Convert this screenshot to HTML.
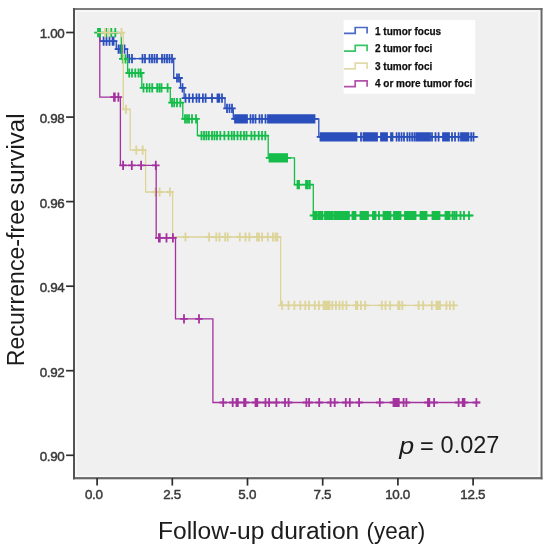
<!DOCTYPE html>
<html><head><meta charset="utf-8"><style>
html,body{margin:0;padding:0;background:#fff;width:550px;height:548px;overflow:hidden}
svg{display:block}
.tk{font-family:"Liberation Sans",Arial,sans-serif;font-size:13.4px;fill:#383838;stroke:#383838;stroke-width:0.45;letter-spacing:-0.3px}
.lg{font-family:"Liberation Sans",Arial,sans-serif;font-size:10px;font-weight:bold;fill:#111;stroke:#111;stroke-width:0.25}
.pv{font-family:"Liberation Sans",Arial,sans-serif;font-size:23.5px;fill:#1a1a1a}
.ax{font-family:"Liberation Sans",Arial,sans-serif;font-size:23.3px;fill:#1a1a1a}
</style></head><body>
<svg width="550" height="548" viewBox="0 0 550 548">
<defs><filter id="gb" filterUnits="userSpaceOnUse" x="0" y="0" width="550" height="548"><feGaussianBlur stdDeviation="0.4"/></filter></defs>
<g filter="url(#gb)">
<rect x="73" y="8" width="469.4" height="471.3" fill="#f0f0f0"/>
<rect x="76" y="11.2" width="463" height="465.1" fill="none" stroke="#f9f9f9" stroke-width="1.4"/>
<rect x="73" y="8" width="469.4" height="2" fill="#7c7c7c"/>
<rect x="73" y="477.1" width="469.4" height="2.2" fill="#686868"/>
<rect x="540.6" y="8" width="1.9" height="471.3" fill="#686868"/>
<rect x="73" y="8" width="2" height="471.3" fill="#525252"/>
<path d="M66.1 32.5H74" stroke="#2e2e2e" stroke-width="1.7"/>
<text x="64.5" y="38.4" text-anchor="end" class="tk">1.00</text>
<path d="M66.1 117.1H74" stroke="#2e2e2e" stroke-width="1.7"/>
<text x="64.5" y="123.0" text-anchor="end" class="tk">0.98</text>
<path d="M66.1 201.6H74" stroke="#2e2e2e" stroke-width="1.7"/>
<text x="64.5" y="207.5" text-anchor="end" class="tk">0.96</text>
<path d="M66.1 286.2H74" stroke="#2e2e2e" stroke-width="1.7"/>
<text x="64.5" y="292.1" text-anchor="end" class="tk">0.94</text>
<path d="M66.1 370.7H74" stroke="#2e2e2e" stroke-width="1.7"/>
<text x="64.5" y="376.6" text-anchor="end" class="tk">0.92</text>
<path d="M66.1 455.3H74" stroke="#2e2e2e" stroke-width="1.7"/>
<text x="64.5" y="461.2" text-anchor="end" class="tk">0.90</text>
<path d="M97.1 478V485.6" stroke="#2e2e2e" stroke-width="1.7"/>
<text x="93.8" y="498.7" text-anchor="middle" class="tk">0.0</text>
<path d="M172.3 478V485.6" stroke="#2e2e2e" stroke-width="1.7"/>
<text x="172.0" y="498.7" text-anchor="middle" class="tk">2.5</text>
<path d="M247.5 478V485.6" stroke="#2e2e2e" stroke-width="1.7"/>
<text x="247.2" y="498.7" text-anchor="middle" class="tk">5.0</text>
<path d="M322.7 478V485.6" stroke="#2e2e2e" stroke-width="1.7"/>
<text x="322.4" y="498.7" text-anchor="middle" class="tk">7.5</text>
<path d="M397.9 478V485.6" stroke="#2e2e2e" stroke-width="1.7"/>
<text x="397.6" y="498.7" text-anchor="middle" class="tk">10.0</text>
<path d="M473.1 478V485.6" stroke="#2e2e2e" stroke-width="1.7"/>
<text x="472.8" y="498.7" text-anchor="middle" class="tk">12.5</text>
<defs><filter id="bl" x="-5%" y="-5%" width="110%" height="110%"><feGaussianBlur stdDeviation="0.45"/></filter></defs>
<g filter="url(#bl)">
<path d="M97.0 32.6 H100.0 V41.2 H116.3 V49.2 H127.4 V58.7 H173.7 V78.0 H180.5 V87.8 H184.1 V98.2 H225.0 V108.4 H233.3 V118.9 H318.8 V136.9 H478.2" fill="none" stroke="#2c50bc" stroke-width="1.3"/><path d="M103.6 36.6v9.2M99.8 41.2h7.6M106.5 36.6v9.2M102.7 41.2h7.6M109.5 36.6v9.2M105.7 41.2h7.6M112.6 36.6v9.2M108.8 41.2h7.6M113.6 36.6v9.2M109.8 41.2h7.6M118.5 44.6v9.2M114.7 49.2h7.6M120.5 44.6v9.2M116.7 49.2h7.6M122.5 44.6v9.2M118.7 49.2h7.6M124.5 44.6v9.2M120.7 49.2h7.6M129.2 54.1v9.2M125.4 58.7h7.6M132.0 54.1v9.2M128.2 58.7h7.6M142.5 54.1v9.2M138.7 58.7h7.6M145.0 54.1v9.2M141.2 58.7h7.6M149.5 54.1v9.2M145.7 58.7h7.6M152.0 54.1v9.2M148.2 58.7h7.6M154.5 54.1v9.2M150.7 58.7h7.6M157.0 54.1v9.2M153.2 58.7h7.6M162.0 54.1v9.2M158.2 58.7h7.6M164.5 54.1v9.2M160.7 58.7h7.6M167.0 54.1v9.2M163.2 58.7h7.6M169.5 54.1v9.2M165.7 58.7h7.6M172.0 54.1v9.2M168.2 58.7h7.6M177.0 73.4v9.2M173.2 78.0h7.6M179.0 73.4v9.2M175.2 78.0h7.6M182.5 83.2v9.2M178.7 87.8h7.6M185.5 93.6v9.2M181.7 98.2h7.6M189.2 93.6v9.2M185.4 98.2h7.6M192.8 93.6v9.2M189.0 98.2h7.6M196.5 93.6v9.2M192.7 98.2h7.6M199.2 93.6v9.2M195.4 98.2h7.6M202.9 93.6v9.2M199.1 98.2h7.6M205.6 93.6v9.2M201.8 98.2h7.6M212.0 93.6v9.2M208.2 98.2h7.6M217.5 93.6v9.2M213.7 98.2h7.6M219.3 93.6v9.2M215.5 98.2h7.6M222.0 93.6v9.2M218.2 98.2h7.6M227.0 103.8v9.2M223.2 108.4h7.6M229.5 103.8v9.2M225.7 108.4h7.6M232.0 103.8v9.2M228.2 108.4h7.6M235.0 114.3v9.2M231.2 118.9h7.6M236.5 114.3v9.2M232.7 118.9h7.6M238.0 114.3v9.2M234.2 118.9h7.6M239.5 114.3v9.2M235.7 118.9h7.6M241.0 114.3v9.2M237.2 118.9h7.6M242.5 114.3v9.2M238.7 118.9h7.6M244.0 114.3v9.2M240.2 118.9h7.6M245.5 114.3v9.2M241.7 118.9h7.6M247.0 114.3v9.2M243.2 118.9h7.6M250.5 114.3v9.2M246.7 118.9h7.6M253.0 114.3v9.2M249.2 118.9h7.6M255.5 114.3v9.2M251.7 118.9h7.6M259.5 114.3v9.2M255.7 118.9h7.6M262.0 114.3v9.2M258.2 118.9h7.6M265.5 114.3v9.2M261.7 118.9h7.6M268.0 114.3v9.2M264.2 118.9h7.6M269.5 114.3v9.2M265.7 118.9h7.6M271.0 114.3v9.2M267.2 118.9h7.6M272.5 114.3v9.2M268.7 118.9h7.6M274.0 114.3v9.2M270.2 118.9h7.6M275.5 114.3v9.2M271.7 118.9h7.6M277.0 114.3v9.2M273.2 118.9h7.6M278.5 114.3v9.2M274.7 118.9h7.6M280.0 114.3v9.2M276.2 118.9h7.6M281.5 114.3v9.2M277.7 118.9h7.6M283.0 114.3v9.2M279.2 118.9h7.6M284.5 114.3v9.2M280.7 118.9h7.6M286.0 114.3v9.2M282.2 118.9h7.6M287.5 114.3v9.2M283.7 118.9h7.6M289.0 114.3v9.2M285.2 118.9h7.6M290.5 114.3v9.2M286.7 118.9h7.6M292.0 114.3v9.2M288.2 118.9h7.6M293.5 114.3v9.2M289.7 118.9h7.6M295.0 114.3v9.2M291.2 118.9h7.6M296.5 114.3v9.2M292.7 118.9h7.6M298.0 114.3v9.2M294.2 118.9h7.6M299.5 114.3v9.2M295.7 118.9h7.6M301.0 114.3v9.2M297.2 118.9h7.6M302.5 114.3v9.2M298.7 118.9h7.6M304.0 114.3v9.2M300.2 118.9h7.6M305.5 114.3v9.2M301.7 118.9h7.6M307.0 114.3v9.2M303.2 118.9h7.6M308.5 114.3v9.2M304.7 118.9h7.6M310.0 114.3v9.2M306.2 118.9h7.6M311.5 114.3v9.2M307.7 118.9h7.6M313.0 114.3v9.2M309.2 118.9h7.6M314.5 114.3v9.2M310.7 118.9h7.6M320.5 132.3v9.2M316.7 136.9h7.6M322.0 132.3v9.2M318.2 136.9h7.6M323.5 132.3v9.2M319.7 136.9h7.6M325.0 132.3v9.2M321.2 136.9h7.6M326.5 132.3v9.2M322.7 136.9h7.6M328.0 132.3v9.2M324.2 136.9h7.6M329.5 132.3v9.2M325.7 136.9h7.6M331.0 132.3v9.2M327.2 136.9h7.6M332.5 132.3v9.2M328.7 136.9h7.6M334.0 132.3v9.2M330.2 136.9h7.6M335.5 132.3v9.2M331.7 136.9h7.6M337.0 132.3v9.2M333.2 136.9h7.6M338.5 132.3v9.2M334.7 136.9h7.6M340.0 132.3v9.2M336.2 136.9h7.6M341.5 132.3v9.2M337.7 136.9h7.6M343.0 132.3v9.2M339.2 136.9h7.6M344.5 132.3v9.2M340.7 136.9h7.6M346.0 132.3v9.2M342.2 136.9h7.6M347.5 132.3v9.2M343.7 136.9h7.6M349.0 132.3v9.2M345.2 136.9h7.6M350.5 132.3v9.2M346.7 136.9h7.6M352.0 132.3v9.2M348.2 136.9h7.6M353.5 132.3v9.2M349.7 136.9h7.6M355.0 132.3v9.2M351.2 136.9h7.6M356.5 132.3v9.2M352.7 136.9h7.6M361.0 132.3v9.2M357.2 136.9h7.6M363.5 132.3v9.2M359.7 136.9h7.6M365.0 132.3v9.2M361.2 136.9h7.6M366.5 132.3v9.2M362.7 136.9h7.6M368.0 132.3v9.2M364.2 136.9h7.6M369.5 132.3v9.2M365.7 136.9h7.6M371.0 132.3v9.2M367.2 136.9h7.6M372.5 132.3v9.2M368.7 136.9h7.6M374.0 132.3v9.2M370.2 136.9h7.6M375.5 132.3v9.2M371.7 136.9h7.6M377.0 132.3v9.2M373.2 136.9h7.6M381.0 132.3v9.2M377.2 136.9h7.6M382.5 132.3v9.2M378.7 136.9h7.6M384.0 132.3v9.2M380.2 136.9h7.6M385.5 132.3v9.2M381.7 136.9h7.6M387.0 132.3v9.2M383.2 136.9h7.6M391.0 132.3v9.2M387.2 136.9h7.6M392.5 132.3v9.2M388.7 136.9h7.6M396.6 132.3v9.2M392.8 136.9h7.6M399.0 132.3v9.2M395.2 136.9h7.6M401.5 132.3v9.2M397.7 136.9h7.6M404.0 132.3v9.2M400.2 136.9h7.6M407.3 132.3v9.2M403.5 136.9h7.6M409.7 132.3v9.2M405.9 136.9h7.6M412.2 132.3v9.2M408.4 136.9h7.6M414.5 132.3v9.2M410.7 136.9h7.6M416.5 132.3v9.2M412.7 136.9h7.6M418.0 132.3v9.2M414.2 136.9h7.6M419.5 132.3v9.2M415.7 136.9h7.6M421.0 132.3v9.2M417.2 136.9h7.6M422.5 132.3v9.2M418.7 136.9h7.6M424.0 132.3v9.2M420.2 136.9h7.6M425.5 132.3v9.2M421.7 136.9h7.6M427.0 132.3v9.2M423.2 136.9h7.6M428.5 132.3v9.2M424.7 136.9h7.6M430.0 132.3v9.2M426.2 136.9h7.6M432.0 132.3v9.2M428.2 136.9h7.6M435.5 132.3v9.2M431.7 136.9h7.6M438.6 132.3v9.2M434.8 136.9h7.6M443.0 132.3v9.2M439.2 136.9h7.6M444.5 132.3v9.2M440.7 136.9h7.6M446.0 132.3v9.2M442.2 136.9h7.6M447.5 132.3v9.2M443.7 136.9h7.6M449.0 132.3v9.2M445.2 136.9h7.6M452.0 132.3v9.2M448.2 136.9h7.6M455.0 132.3v9.2M451.2 136.9h7.6M458.6 132.3v9.2M454.8 136.9h7.6M461.0 132.3v9.2M457.2 136.9h7.6M462.5 132.3v9.2M458.7 136.9h7.6M464.0 132.3v9.2M460.2 136.9h7.6M465.5 132.3v9.2M461.7 136.9h7.6M467.0 132.3v9.2M463.2 136.9h7.6M468.5 132.3v9.2M464.7 136.9h7.6M471.2 132.3v9.2M467.4 136.9h7.6M473.5 132.3v9.2M469.7 136.9h7.6" fill="none" stroke="#2c50bc" stroke-width="1.8"/>
<path d="M97.0 32.6 H121.3 V58.9 H127.6 V73.0 H141.8 V87.8 H170.3 V102.7 H182.8 V118.8 H197.4 V135.7 H268.2 V157.8 H294.5 V184.6 H313.3 V215.5 H473.6" fill="none" stroke="#14bc4a" stroke-width="1.3"/><path d="M98.0 28.0v9.2M94.2 32.6h7.6M99.0 28.0v9.2M95.2 32.6h7.6M100.0 28.0v9.2M96.2 32.6h7.6M106.2 28.0v9.2M102.4 32.6h7.6M111.3 28.0v9.2M107.5 32.6h7.6M115.3 28.0v9.2M111.5 32.6h7.6M122.8 54.3v9.2M119.0 58.9h7.6M125.5 54.3v9.2M121.7 58.9h7.6M129.2 68.4v9.2M125.4 73.0h7.6M132.0 68.4v9.2M128.2 73.0h7.6M135.3 68.4v9.2M131.5 73.0h7.6M138.5 68.4v9.2M134.7 73.0h7.6M140.7 68.4v9.2M136.9 73.0h7.6M143.5 83.2v9.2M139.7 87.8h7.6M146.8 83.2v9.2M143.0 87.8h7.6M149.5 83.2v9.2M145.7 87.8h7.6M152.2 83.2v9.2M148.4 87.8h7.6M157.2 83.2v9.2M153.4 87.8h7.6M159.4 83.2v9.2M155.6 87.8h7.6M161.5 83.2v9.2M157.7 87.8h7.6M167.6 83.2v9.2M163.8 87.8h7.6M172.0 98.1v9.2M168.2 102.7h7.6M174.2 98.1v9.2M170.4 102.7h7.6M177.0 98.1v9.2M173.2 102.7h7.6M180.3 98.1v9.2M176.5 102.7h7.6M185.0 114.2v9.2M181.2 118.8h7.6M187.0 114.2v9.2M183.2 118.8h7.6M189.0 114.2v9.2M185.2 118.8h7.6M192.0 114.2v9.2M188.2 118.8h7.6M196.0 114.2v9.2M192.2 118.8h7.6M201.5 131.1v9.2M197.7 135.7h7.6M204.0 131.1v9.2M200.2 135.7h7.6M206.4 131.1v9.2M202.6 135.7h7.6M208.8 131.1v9.2M205.0 135.7h7.6M212.0 131.1v9.2M208.2 135.7h7.6M214.5 131.1v9.2M210.7 135.7h7.6M217.0 131.1v9.2M213.2 135.7h7.6M220.3 131.1v9.2M216.5 135.7h7.6M224.4 131.1v9.2M220.6 135.7h7.6M228.5 131.1v9.2M224.7 135.7h7.6M231.7 131.1v9.2M227.9 135.7h7.6M234.2 131.1v9.2M230.4 135.7h7.6M237.5 131.1v9.2M233.7 135.7h7.6M240.7 131.1v9.2M236.9 135.7h7.6M244.0 131.1v9.2M240.2 135.7h7.6M246.5 131.1v9.2M242.7 135.7h7.6M251.4 131.1v9.2M247.6 135.7h7.6M254.6 131.1v9.2M250.8 135.7h7.6M258.7 131.1v9.2M254.9 135.7h7.6M262.0 131.1v9.2M258.2 135.7h7.6M265.3 131.1v9.2M261.5 135.7h7.6M269.5 153.2v9.2M265.7 157.8h7.6M271.1 153.2v9.2M267.3 157.8h7.6M272.7 153.2v9.2M268.9 157.8h7.6M274.3 153.2v9.2M270.5 157.8h7.6M275.9 153.2v9.2M272.1 157.8h7.6M277.5 153.2v9.2M273.7 157.8h7.6M279.1 153.2v9.2M275.3 157.8h7.6M280.7 153.2v9.2M276.9 157.8h7.6M282.3 153.2v9.2M278.5 157.8h7.6M283.9 153.2v9.2M280.1 157.8h7.6M285.5 153.2v9.2M281.7 157.8h7.6M287.1 153.2v9.2M283.3 157.8h7.6M297.5 180.0v9.2M293.7 184.6h7.6M299.0 180.0v9.2M295.2 184.6h7.6M306.0 180.0v9.2M302.2 184.6h7.6M307.8 180.0v9.2M304.0 184.6h7.6M309.8 180.0v9.2M306.0 184.6h7.6M313.5 210.9v9.2M309.7 215.5h7.6M315.0 210.9v9.2M311.2 215.5h7.6M316.5 210.9v9.2M312.7 215.5h7.6M318.5 210.9v9.2M314.7 215.5h7.6M319.8 210.9v9.2M316.0 215.5h7.6M321.2 210.9v9.2M317.4 215.5h7.6M322.5 210.9v9.2M318.7 215.5h7.6M325.0 210.9v9.2M321.2 215.5h7.6M326.5 210.9v9.2M322.7 215.5h7.6M328.0 210.9v9.2M324.2 215.5h7.6M329.5 210.9v9.2M325.7 215.5h7.6M331.0 210.9v9.2M327.2 215.5h7.6M332.5 210.9v9.2M328.7 215.5h7.6M334.5 210.9v9.2M330.7 215.5h7.6M335.7 210.9v9.2M331.9 215.5h7.6M336.9 210.9v9.2M333.1 215.5h7.6M338.1 210.9v9.2M334.3 215.5h7.6M339.3 210.9v9.2M335.5 215.5h7.6M340.5 210.9v9.2M336.7 215.5h7.6M341.7 210.9v9.2M337.9 215.5h7.6M342.9 210.9v9.2M339.1 215.5h7.6M344.1 210.9v9.2M340.3 215.5h7.6M345.3 210.9v9.2M341.5 215.5h7.6M346.5 210.9v9.2M342.7 215.5h7.6M347.7 210.9v9.2M343.9 215.5h7.6M348.9 210.9v9.2M345.1 215.5h7.6M352.5 210.9v9.2M348.7 215.5h7.6M354.0 210.9v9.2M350.2 215.5h7.6M355.5 210.9v9.2M351.7 215.5h7.6M360.5 210.9v9.2M356.7 215.5h7.6M362.0 210.9v9.2M358.2 215.5h7.6M363.5 210.9v9.2M359.7 215.5h7.6M365.0 210.9v9.2M361.2 215.5h7.6M366.5 210.9v9.2M362.7 215.5h7.6M368.0 210.9v9.2M364.2 215.5h7.6M373.0 210.9v9.2M369.2 215.5h7.6M374.2 210.9v9.2M370.4 215.5h7.6M375.5 210.9v9.2M371.7 215.5h7.6M379.0 210.9v9.2M375.2 215.5h7.6M383.5 210.9v9.2M379.7 215.5h7.6M384.9 210.9v9.2M381.1 215.5h7.6M386.3 210.9v9.2M382.5 215.5h7.6M387.7 210.9v9.2M383.9 215.5h7.6M389.1 210.9v9.2M385.3 215.5h7.6M390.5 210.9v9.2M386.7 215.5h7.6M394.0 210.9v9.2M390.2 215.5h7.6M395.3 210.9v9.2M391.5 215.5h7.6M396.6 210.9v9.2M392.8 215.5h7.6M397.9 210.9v9.2M394.1 215.5h7.6M399.2 210.9v9.2M395.4 215.5h7.6M400.5 210.9v9.2M396.7 215.5h7.6M405.0 210.9v9.2M401.2 215.5h7.6M406.5 210.9v9.2M402.7 215.5h7.6M408.0 210.9v9.2M404.2 215.5h7.6M409.5 210.9v9.2M405.7 215.5h7.6M411.0 210.9v9.2M407.2 215.5h7.6M412.5 210.9v9.2M408.7 215.5h7.6M414.0 210.9v9.2M410.2 215.5h7.6M415.5 210.9v9.2M411.7 215.5h7.6M420.5 210.9v9.2M416.7 215.5h7.6M422.0 210.9v9.2M418.2 215.5h7.6M423.5 210.9v9.2M419.7 215.5h7.6M425.0 210.9v9.2M421.2 215.5h7.6M426.5 210.9v9.2M422.7 215.5h7.6M432.5 210.9v9.2M428.7 215.5h7.6M433.9 210.9v9.2M430.1 215.5h7.6M435.3 210.9v9.2M431.5 215.5h7.6M436.7 210.9v9.2M432.9 215.5h7.6M438.1 210.9v9.2M434.3 215.5h7.6M439.5 210.9v9.2M435.7 215.5h7.6M445.5 210.9v9.2M441.7 215.5h7.6M446.8 210.9v9.2M443.0 215.5h7.6M448.2 210.9v9.2M444.4 215.5h7.6M449.5 210.9v9.2M445.7 215.5h7.6M452.5 210.9v9.2M448.7 215.5h7.6M454.5 210.9v9.2M450.7 215.5h7.6M456.5 210.9v9.2M452.7 215.5h7.6M460.5 210.9v9.2M456.7 215.5h7.6M464.0 210.9v9.2M460.2 215.5h7.6M469.0 210.9v9.2M465.2 215.5h7.6" fill="none" stroke="#14bc4a" stroke-width="1.8"/>
<path d="M97.0 32.6 H123.3 V109.3 H130.2 V150.2 H145.6 V192.0 H172.6 V237.0 H280.6 V305.4 H457.7" fill="none" stroke="#ddd49a" stroke-width="1.3"/><path d="M105.0 28.0v9.2M101.2 32.6h7.6M108.5 28.0v9.2M104.7 32.6h7.6M121.5 28.0v9.2M117.7 32.6h7.6M126.0 104.7v9.2M122.2 109.3h7.6M136.3 145.6v9.2M132.5 150.2h7.6M142.7 145.6v9.2M138.9 150.2h7.6M155.3 187.4v9.2M151.5 192.0h7.6M159.6 187.4v9.2M155.8 192.0h7.6M169.9 187.4v9.2M166.1 192.0h7.6M185.5 232.4v9.2M181.7 237.0h7.6M209.1 232.4v9.2M205.3 237.0h7.6M216.3 232.4v9.2M212.5 237.0h7.6M219.5 232.4v9.2M215.7 237.0h7.6M225.2 232.4v9.2M221.4 237.0h7.6M227.7 232.4v9.2M223.9 237.0h7.6M239.8 232.4v9.2M236.0 237.0h7.6M245.5 232.4v9.2M241.7 237.0h7.6M249.4 232.4v9.2M245.6 237.0h7.6M257.0 232.4v9.2M253.2 237.0h7.6M258.9 232.4v9.2M255.1 237.0h7.6M262.1 232.4v9.2M258.3 237.0h7.6M267.8 232.4v9.2M264.0 237.0h7.6M272.9 232.4v9.2M269.1 237.0h7.6M275.5 232.4v9.2M271.7 237.0h7.6M277.4 232.4v9.2M273.6 237.0h7.6M282.1 300.8v9.2M278.3 305.4h7.6M288.5 300.8v9.2M284.7 305.4h7.6M294.4 300.8v9.2M290.6 305.4h7.6M300.3 300.8v9.2M296.5 305.4h7.6M305.3 300.8v9.2M301.5 305.4h7.6M308.9 300.8v9.2M305.1 305.4h7.6M314.8 300.8v9.2M311.0 305.4h7.6M318.9 300.8v9.2M315.1 305.4h7.6M323.5 300.8v9.2M319.7 305.4h7.6M325.0 300.8v9.2M321.2 305.4h7.6M326.5 300.8v9.2M322.7 305.4h7.6M328.0 300.8v9.2M324.2 305.4h7.6M329.5 300.8v9.2M325.7 305.4h7.6M332.3 300.8v9.2M328.5 305.4h7.6M335.9 300.8v9.2M332.1 305.4h7.6M339.5 300.8v9.2M335.7 305.4h7.6M342.7 300.8v9.2M338.9 305.4h7.6M346.4 300.8v9.2M342.6 305.4h7.6M355.9 300.8v9.2M352.1 305.4h7.6M357.3 300.8v9.2M353.5 305.4h7.6M360.9 300.8v9.2M357.1 305.4h7.6M365.2 300.8v9.2M361.4 305.4h7.6M381.8 300.8v9.2M378.0 305.4h7.6M385.5 300.8v9.2M381.7 305.4h7.6M390.0 300.8v9.2M386.2 305.4h7.6M398.2 300.8v9.2M394.4 305.4h7.6M399.4 300.8v9.2M395.6 305.4h7.6M402.3 300.8v9.2M398.5 305.4h7.6M418.6 300.8v9.2M414.8 305.4h7.6M423.2 300.8v9.2M419.4 305.4h7.6M431.8 300.8v9.2M428.0 305.4h7.6M436.4 300.8v9.2M432.6 305.4h7.6M438.2 300.8v9.2M434.4 305.4h7.6M440.0 300.8v9.2M436.2 305.4h7.6M446.4 300.8v9.2M442.6 305.4h7.6M450.0 300.8v9.2M446.2 305.4h7.6M453.6 300.8v9.2M449.8 305.4h7.6" fill="none" stroke="#ddd49a" stroke-width="1.8"/>
<path d="M99.8 37.0 H99.8 V97.1 H120.4 V165.3 H156.2 V237.8 H175.5 V318.8 H212.9 V402.5 H480.3" fill="none" stroke="#a4329e" stroke-width="1.3"/><path d="M114.0 92.5v9.2M110.2 97.1h7.6M114.8 92.5v9.2M111.0 97.1h7.6M118.4 92.5v9.2M114.6 97.1h7.6M123.1 160.7v9.2M119.3 165.3h7.6M131.8 160.7v9.2M128.0 165.3h7.6M141.1 160.7v9.2M137.3 165.3h7.6M155.8 160.7v9.2M152.0 165.3h7.6M158.9 233.2v9.2M155.1 237.8h7.6M159.8 233.2v9.2M156.0 237.8h7.6M166.5 233.2v9.2M162.7 237.8h7.6M172.9 233.2v9.2M169.1 237.8h7.6M184.0 314.2v9.2M180.2 318.8h7.6M199.0 314.2v9.2M195.2 318.8h7.6M223.2 397.9v9.2M219.4 402.5h7.6M232.7 397.9v9.2M228.9 402.5h7.6M236.5 397.9v9.2M232.7 402.5h7.6M237.8 397.9v9.2M234.0 402.5h7.6M244.1 397.9v9.2M240.3 402.5h7.6M245.5 397.9v9.2M241.7 402.5h7.6M255.5 397.9v9.2M251.7 402.5h7.6M257.3 397.9v9.2M253.5 402.5h7.6M265.5 397.9v9.2M261.7 402.5h7.6M269.1 397.9v9.2M265.3 402.5h7.6M276.4 397.9v9.2M272.6 402.5h7.6M285.0 397.9v9.2M281.2 402.5h7.6M288.6 397.9v9.2M284.8 402.5h7.6M306.4 397.9v9.2M302.6 402.5h7.6M309.1 397.9v9.2M305.3 402.5h7.6M319.2 397.9v9.2M315.4 402.5h7.6M330.6 397.9v9.2M326.8 402.5h7.6M334.7 397.9v9.2M330.9 402.5h7.6M345.8 397.9v9.2M342.0 402.5h7.6M349.8 397.9v9.2M346.0 402.5h7.6M359.1 397.9v9.2M355.3 402.5h7.6M379.8 397.9v9.2M376.0 402.5h7.6M393.5 397.9v9.2M389.7 402.5h7.6M395.3 397.9v9.2M391.5 402.5h7.6M397.0 397.9v9.2M393.2 402.5h7.6M398.8 397.9v9.2M395.0 402.5h7.6M403.6 397.9v9.2M399.8 402.5h7.6M406.4 397.9v9.2M402.6 402.5h7.6M428.0 397.9v9.2M424.2 402.5h7.6M429.3 397.9v9.2M425.5 402.5h7.6M434.1 397.9v9.2M430.3 402.5h7.6M458.6 397.9v9.2M454.8 402.5h7.6M462.7 397.9v9.2M458.9 402.5h7.6M464.5 397.9v9.2M460.7 402.5h7.6M476.4 397.9v9.2M472.6 402.5h7.6" fill="none" stroke="#a4329e" stroke-width="1.8"/>
</g>
<rect x="343.6" y="19.9" width="131.59999999999997" height="73.9" fill="#ffffff"/>
<path d="M344 33.3H355.2V27.5H367.1V33.5" fill="none" stroke="#2c50bc" stroke-width="1.7" opacity="0.85"/>
<text x="375" y="35.1" class="lg">1 tumor focus</text>
<path d="M344 51.1H355.2V45.3H367.1V51.3" fill="none" stroke="#14bc4a" stroke-width="1.7" opacity="0.85"/>
<text x="375" y="52.4" class="lg">2 tumor foci</text>
<path d="M344 68.9H355.2V63.1H367.1V69.1" fill="none" stroke="#ddd49a" stroke-width="1.7" opacity="0.85"/>
<text x="375" y="69.5" class="lg">3 tumor foci</text>
<path d="M344 86.6H355.2V80.8H367.1V86.8" fill="none" stroke="#a4329e" stroke-width="1.7" opacity="0.85"/>
<text x="375" y="86.6" class="lg">4 or more tumor foci</text>
<text transform="translate(399.3 453.7) scale(1.14 1)" class="pv" font-style="italic">p</text>
<text x="420.1" y="454.4" class="pv">=</text>
<text x="440.6" y="452.8" class="pv">0.027</text>
<text transform="translate(158.0 538.6) scale(1.054 1)" class="ax">Follow-up</text>
<text transform="translate(270.5 538.6) scale(1.054 1)" class="ax">duration</text>
<text transform="translate(366.6 538.6) scale(0.965 1)" class="ax">(year)</text>
<text transform="translate(24.1 366.2) rotate(-90) scale(0.993 1)" class="ax">Recurrence-free</text>
<text transform="translate(24.1 194.8) rotate(-90) scale(1.03 1)" class="ax">survival</text>
</g>
</svg>
</body></html>
